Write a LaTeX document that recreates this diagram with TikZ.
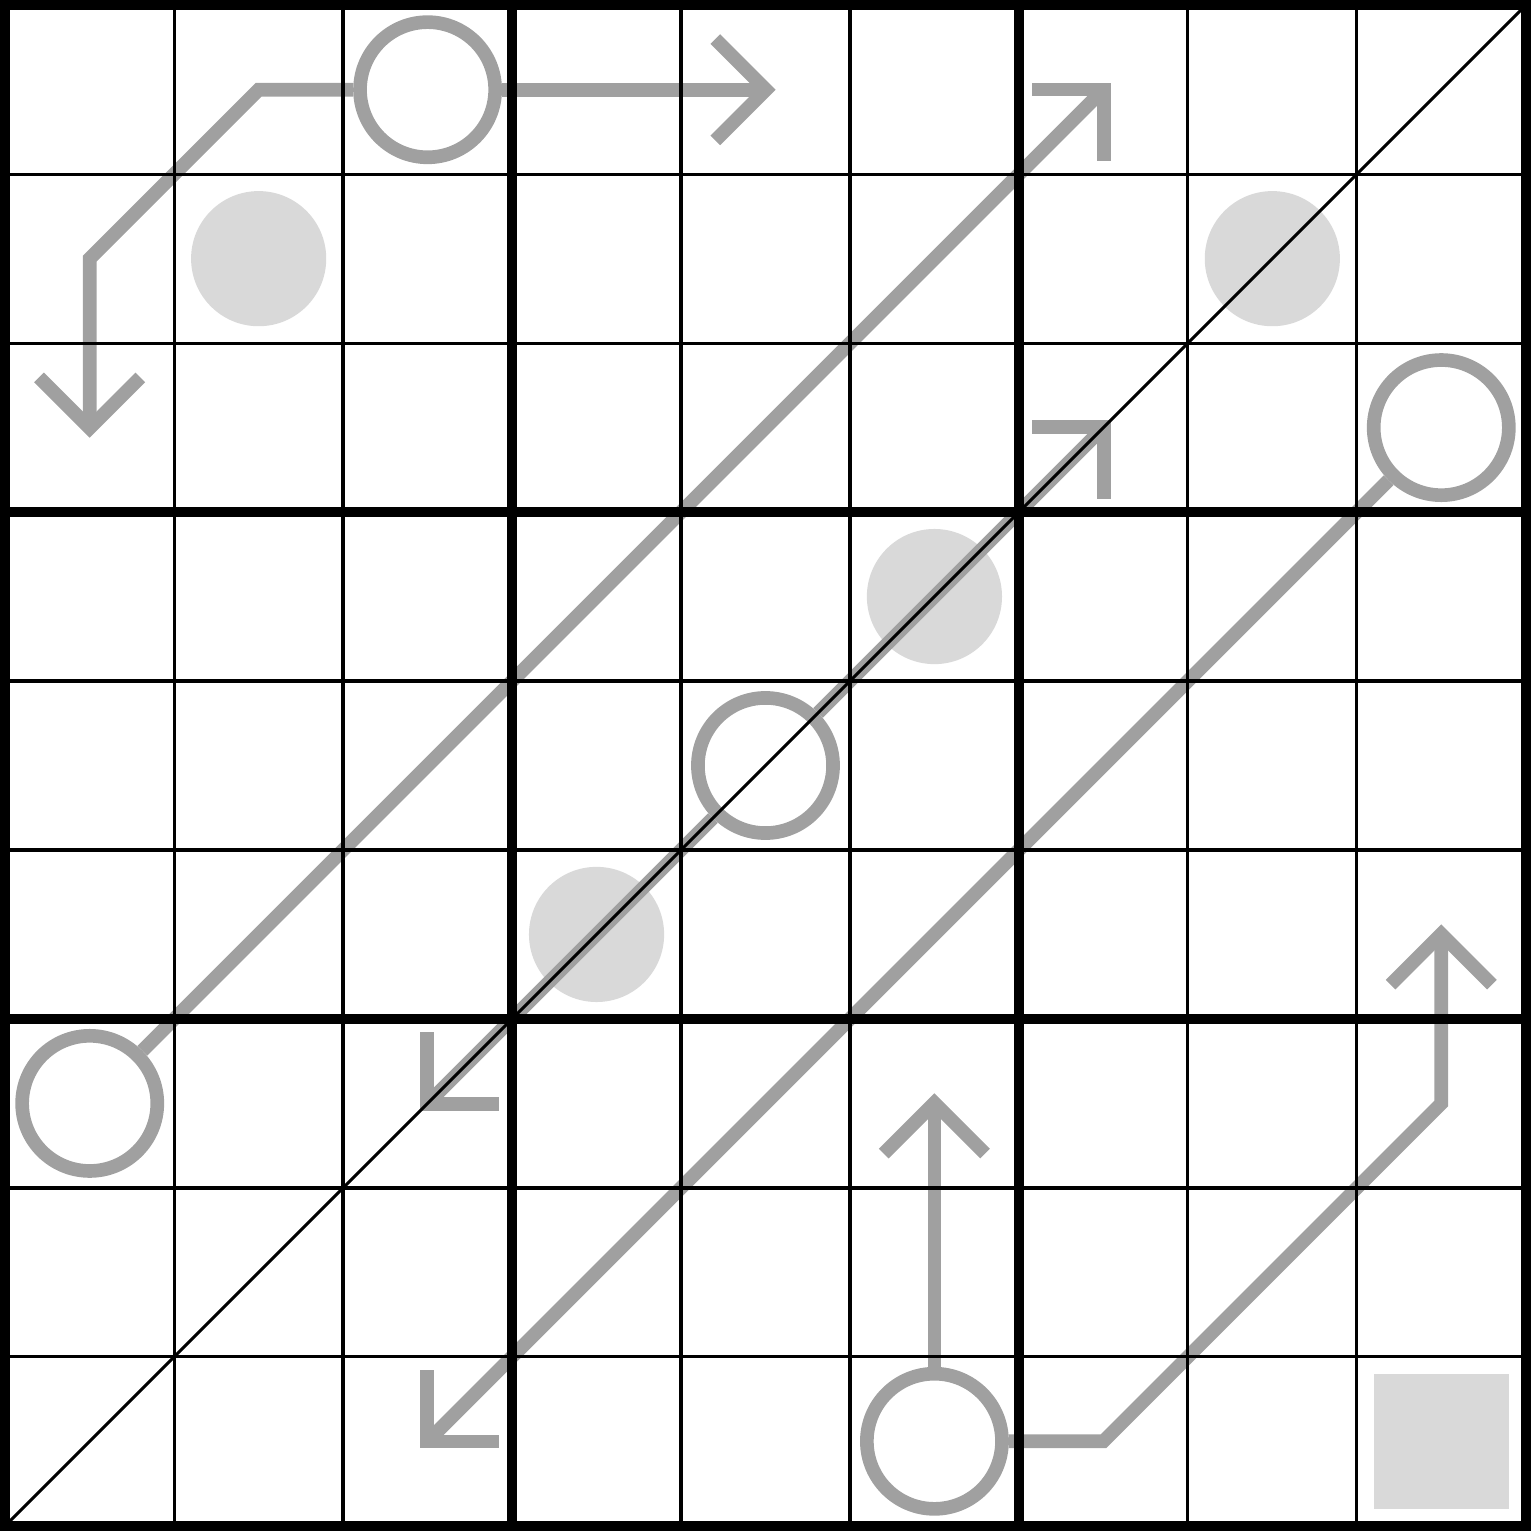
\documentclass[tikz,border=0pt]{standalone}
\usetikzlibrary{arrows.meta}
\definecolor{arrowgray}{RGB}{160,160,160}
\definecolor{shadegray}{RGB}{217,217,217}
\begin{document}
\begin{tikzpicture}[
  thinline/.style={line width=0.55pt, draw=black},
  boxline/.style={line width=1.7pt, draw=black},
  borderline/.style={line width=1.75pt, draw=black},
  diagline/.style={line width=0.5pt, draw=black},
  arrowline/.style={draw=arrowgray, line width=2.3pt, miter limit=10,
    -{Straight Barb[length=0.3cm, width=0.6cm]}, shorten >=-0.06cm},
  bulb/.style={circle, draw=arrowgray, line width=2.3pt, minimum size=0.8cm, inner sep=0pt},
  shadedot/.style={circle, fill=shadegray, minimum size=0.8cm, inner sep=0pt},
  shadesq/.style={rectangle, fill=shadegray, minimum size=0.8cm, inner sep=0pt},
]
\useasboundingbox (-0.031,-0.031) rectangle (9.031,9.031);
\foreach \r in {0,...,8}{
  \foreach \c in {0,...,8}{
    \coordinate (c\r\c) at ({\c+0.5},{8.5-\r});
  }
}
\coordinate (bl) at (0,0);
\coordinate (tr) at (9,9);

% shaded cells
\node[shadedot] (d11) at (c11) {};
\node[shadedot] (d17) at (c17) {};
\node[shadedot] (d35) at (c35) {};
\node[shadedot] (d53) at (c53) {};
\node[shadesq] (s88) at (c88) {};

% bulbs
\node[bulb] (b02) at (c02) {};
\node[bulb] (b60) at (c60) {};
\node[bulb] (b44) at (c44) {};
\node[bulb] (b28) at (c28) {};
\node[bulb] (b85) at (c85) {};

% arrows
\draw[arrowline] (b02) -- (c01) -- (c10) -- (c20);
\draw[arrowline] (b02) -- (c04);
\draw[arrowline] (b60) -- (c06);
\draw[arrowline] (b44) -- (c26);
\draw[arrowline] (b44) -- (c62);
\draw[arrowline] (b28) -- (c82);
\draw[arrowline] (b85) -- (c65);
\draw[arrowline] (b85) -- (c86) -- (c77) -- (c68) -- (c58);

% grid
\foreach \i in {1,2,4,5,7,8}{
  \draw[thinline] (\i,0) -- (\i,9);
  \draw[thinline] (0,\i) -- (9,\i);
}
\foreach \i in {3,6}{
  \draw[boxline] (\i,0) -- (\i,9);
  \draw[boxline] (0,\i) -- (9,\i);
}
\draw[borderline] (0,0) rectangle (9,9);

% diagonal
\draw[diagline] (bl) -- (tr);
\end{tikzpicture}
\end{document}
